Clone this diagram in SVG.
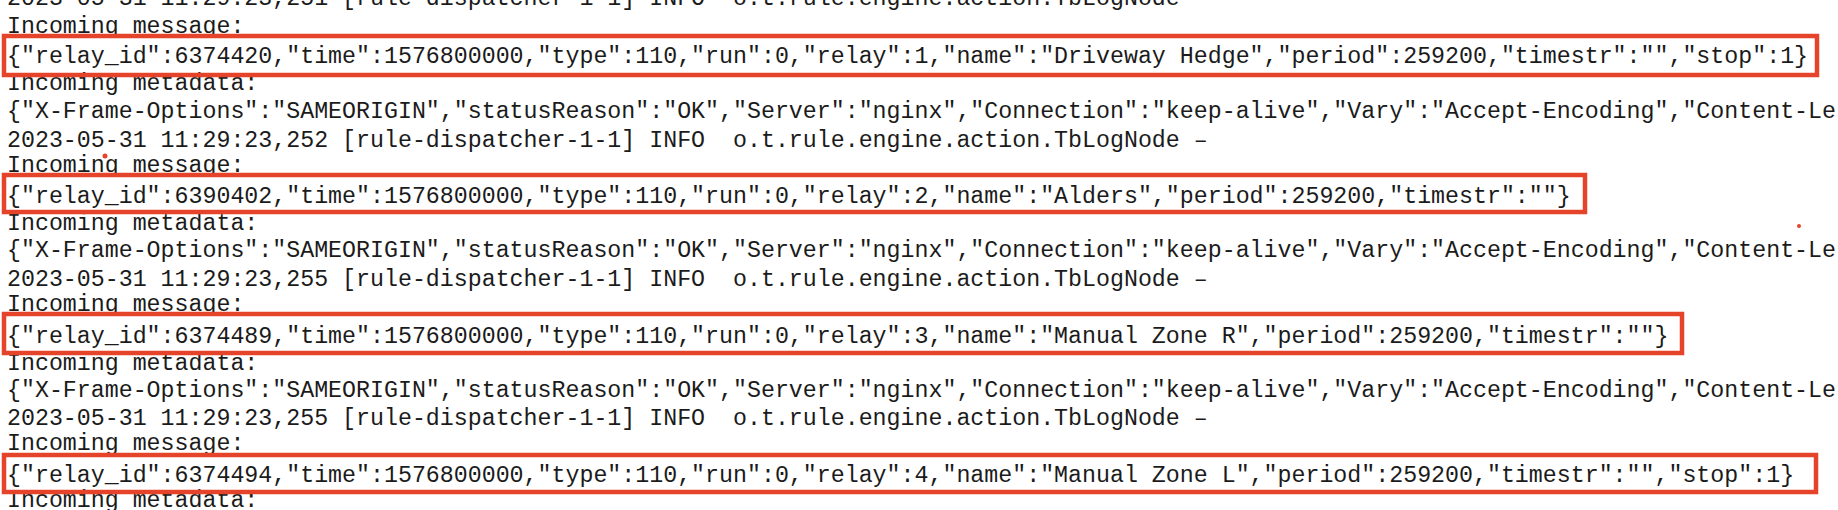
<svg xmlns="http://www.w3.org/2000/svg" width="1838" height="510" viewBox="0 0 1838 510">
<style>
text{font-family:"Liberation Mono","DejaVu Sans Mono",monospace;font-size:23.27px;fill:#1b1b1b;white-space:pre}
.box{fill:none;stroke:#e5432a;stroke-width:4.5}
.dot{fill:#e5432a}
</style>
<rect width="1838" height="510" fill="#ffffff"/>
<g id="log">
<text x="7" y="5" xml:space="preserve">2023-05-31 11:29:23,251 [rule-dispatcher-1-1] INFO  o.t.rule.engine.action.TbLogNode –</text>
<text x="7" y="33">Incoming message:</text>
<text x="7" y="90">Incoming metadata:</text>
<text x="7" y="118">{"X-Frame-Options":"SAMEORIGIN","statusReason":"OK","Server":"nginx","Connection":"keep-alive","Vary":"Accept-Encoding","Content-Le</text>
<text x="7" y="147" xml:space="preserve">2023-05-31 11:29:23,252 [rule-dispatcher-1-1] INFO  o.t.rule.engine.action.TbLogNode –</text>
<text x="7" y="172">Incoming message:</text>
<text x="7" y="230">Incoming metadata:</text>
<text x="7" y="257">{"X-Frame-Options":"SAMEORIGIN","statusReason":"OK","Server":"nginx","Connection":"keep-alive","Vary":"Accept-Encoding","Content-Le</text>
<text x="7" y="286" xml:space="preserve">2023-05-31 11:29:23,255 [rule-dispatcher-1-1] INFO  o.t.rule.engine.action.TbLogNode –</text>
<text x="7" y="311">Incoming message:</text>
<text x="7" y="370">Incoming metadata:</text>
<text x="7" y="397">{"X-Frame-Options":"SAMEORIGIN","statusReason":"OK","Server":"nginx","Connection":"keep-alive","Vary":"Accept-Encoding","Content-Le</text>
<text x="7" y="425" xml:space="preserve">2023-05-31 11:29:23,255 [rule-dispatcher-1-1] INFO  o.t.rule.engine.action.TbLogNode –</text>
<text x="7" y="450">Incoming message:</text>
<text x="7" y="507">Incoming metadata:</text>
</g>
<g id="msg1"><rect class="box" x="4" y="36" width="1813" height="39"/><text x="7" y="63">{"relay_id":6374420,"time":1576800000,"type":110,"run":0,"relay":1,"name":"Driveway Hedge","period":259200,"timestr":"","stop":1}</text></g>
<g id="msg2"><rect class="box" x="4" y="175" width="1581" height="37"/><text x="7" y="203">{"relay_id":6390402,"time":1576800000,"type":110,"run":0,"relay":2,"name":"Alders","period":259200,"timestr":""}</text></g>
<g id="msg3"><rect class="box" x="4" y="314" width="1678" height="39"/><text x="7" y="343">{"relay_id":6374489,"time":1576800000,"type":110,"run":0,"relay":3,"name":"Manual Zone R","period":259200,"timestr":""}</text></g>
<g id="msg4"><rect class="box" x="4" y="455" width="1812" height="37"/><text x="7" y="482">{"relay_id":6374494,"time":1576800000,"type":110,"run":0,"relay":4,"name":"Manual Zone L","period":259200,"timestr":"","stop":1}</text></g>
<g id="marks"><circle class="dot" cx="105" cy="156" r="2.5"/><circle class="dot" cx="1799" cy="226" r="2"/></g>
<g id="connectors"></g>
</svg>
